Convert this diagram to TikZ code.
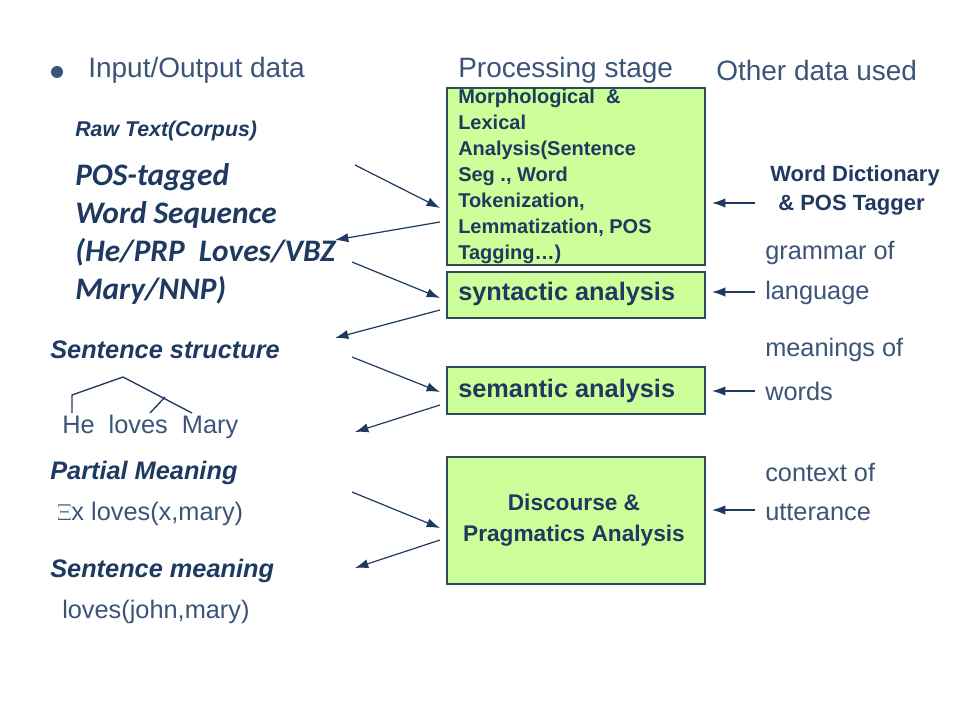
\documentclass[tikz,border=0pt]{standalone}
\usepackage{fontspec}
\setmainfont{Liberation Sans}
\newfontfamily\carlitofam{Carlito}
\usetikzlibrary{arrows.meta}
\definecolor{navy}{HTML}{1F3A60}
\definecolor{hdr}{HTML}{3C5478}
\definecolor{boxfill}{HTML}{CCFF99}
\definecolor{boxline}{HTML}{2E4A5C}
\begin{document}
\begin{tikzpicture}[x=0.75pt,y=-0.75pt,
  hd/.style={anchor=west,inner sep=0,text=hdr,font=\fontsize{21}{23}\selectfont},
  rt/.style={anchor=west,inner sep=0,text=hdr,font=\fontsize{19}{21}\selectfont},
  lt/.style={anchor=west,inner sep=0,text=navy,font=\fontsize{19}{21}\selectfont\bfseries\itshape},
  box/.style={draw=boxline,line width=1.6pt,fill=boxfill},
  bt/.style={text=navy,font=\fontsize{15}{19.5}\selectfont\bfseries},
  ar/.style={-{Latex[length=10pt,width=7pt]},navy,line width=0.9pt}]
\useasboundingbox (0,0) rectangle (960,720);
\fill[white] (0,0) rectangle (960,720);
% header
\fill[hdr] (57,72) circle (6);
\node[hd] (h1) at (88,70) {Input/Output data};
\node[hd] (h2) at (458,70) {Processing stage};
\node[hd] (h3) at (716,70) {Other data used};
% boxes
\draw[box] (447,88) rectangle (705,265);
\node[bt,anchor=north west,align=left,inner sep=0] (b1) at (458,89) {Morphological \ \&\\Lexical\\Analysis(Sentence\\Seg ., Word\\Tokenization,\\Lemmatization, POS\\Tagging…)};
\draw[box] (447,272) rectangle (705,318);
\node[bt,font=\fontsize{19}{22}\selectfont\bfseries,anchor=west,inner sep=0] (b2) at (458,294) {syntactic analysis};
\draw[box] (447,367) rectangle (705,414);
\node[bt,font=\fontsize{19}{22}\selectfont\bfseries,anchor=west,inner sep=0] (b3) at (458,391) {semantic analysis};
\draw[box] (447,457) rectangle (705,584);
\node[bt,font=\fontsize{17}{23}\selectfont\bfseries,align=center,inner sep=0] (b4) at (574,520) {Discourse \&\\Pragmatics Analysis};
% arrows
\foreach \n/\a/\b/\c/\d/\e/\f/\g/\h in {1/355/165/440/208/440/222/335/240,2/352/262/440/298/440/310/335/338,3/352/357/440/392/440/405/355/432,4/352/492/440/528/440/540/355/568}{
  \coordinate (i\n s) at (\a,\b); \coordinate (i\n e) at (\c,\d);
  \coordinate (o\n s) at (\e,\f); \coordinate (o\n e) at (\g,\h);
  \draw[ar] (i\n s) -- (i\n e); \draw[ar] (o\n s) -- (o\n e);}
\foreach \n/\y in {1/203,2/292,3/391,4/510}{
  \coordinate (r\n s) at (755,\y); \coordinate (r\n e) at (712,\y);
  \draw[ar] (r\n s) -- (r\n e);}
% right texts
\node[anchor=west,inner sep=0,text=navy,font=\fontsize{16.5}{19}\selectfont\bfseries] (wd1) at (770,176) {Word Dictionary};
\node[anchor=west,inner sep=0,text=navy,font=\fontsize{16.5}{19}\selectfont\bfseries] (wd2) at (778,205) {\& POS Tagger};
\node[rt] (g1) at (765,253) {grammar of};
\node[rt] (g2) at (765,293) {language};
\node[rt] (m1) at (765,350) {meanings of};
\node[rt] (m2) at (765,391) {words};
\node[rt] (c1) at (765,472) {context of};
\node[rt] (c2) at (765,512) {utterance};
% left texts
\node[lt,font=\fontsize{16}{18}\selectfont\bfseries\itshape] (raw) at (75,131) {Raw Text(Corpus)};
\node[anchor=north west,inner sep=0,text=navy,align=left,font=\carlitofam\fontsize{23.5}{28.5}\selectfont\bfseries\itshape] (pos) at (75,163) {POS-tagged\\Word Sequence\\(He/PRP \ Loves/VBZ\\Mary/NNP)};
\node[lt] (ss) at (50,350) {Sentence structure};
\draw[navy,line width=1pt] (72,413) -- (72,395) -- (123,377) -- (192,413);
\draw[navy,line width=1pt] (150,413) -- (165,397);
\node[rt] (hlm) at (62,427) {He \ loves \ Mary};
\node[lt] (pm) at (50,473) {Partial Meaning};
\node[rt] (pmx) at (57,514) {$\Xi$x loves(x,mary)};
\node[lt] (sm) at (50,571) {Sentence meaning};
\node[rt] (smx) at (62,612) {loves(john,mary)};
\end{tikzpicture}
\end{document}
